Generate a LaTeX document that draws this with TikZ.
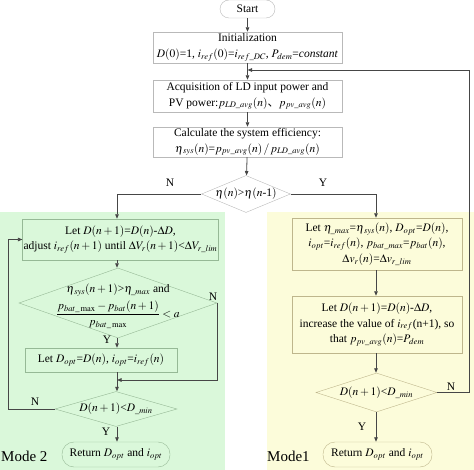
\documentclass[tikz,border=0pt]{standalone}
\usepackage{mathptmx}
\usepackage[no-math]{fontspec}
\setmainfont{Liberation Serif}
\newfontfamily\cjk{Noto Sans CJK SC}
\usepackage{amsmath}
\usetikzlibrary{arrows.meta,positioning,shapes.geometric,calc}
\definecolor{modegreen}{RGB}{218,248,218}
\definecolor{modeyellow}{RGB}{252,252,218}
\definecolor{edgegreen}{RGB}{150,185,150}
\definecolor{edgeyellow}{RGB}{190,182,140}
\definecolor{linegray}{RGB}{70,70,70}
\newcommand{\etasys}{\eta_{\kern1pt sys}}

\begin{document}
\begin{tikzpicture}[
  x=1pt, y=-1pt,
  every node/.style={font=\fontsize{11.5}{15.5}\selectfont},
  proc/.style={rectangle, draw=gray!55, align=center, inner sep=1pt},
  term/.style={rectangle, rounded corners=9pt, draw=gray!55, align=center, inner sep=1pt},
  cond/.style={diamond, draw=gray!55, align=center, inner sep=0pt},
  lbl/.style={inner sep=1pt},
  trans/.style={-{Triangle[length=4.5pt,width=3.5pt]}, draw=linegray, line width=0.8pt},
  link/.style={draw=linegray, line width=0.8pt},
]
  \useasboundingbox (0,0) rectangle (474,470);
  % mode regions
  \fill[modegreen] (0,212) rectangle (225,470);
  \fill[modeyellow] (267,212) rectangle (474,470);

  % main column
  \node[term, minimum width=55pt, minimum height=18pt] (start) at (247.5,9) {Start};
  \node[proc, minimum width=189pt, minimum height=31pt] (init) at (247.5,47.5)
    {Initialization\\ $D(0)$=1, $i_{ref}(0)$=$i_{ref\_DC}$, $P_{dem}$=\textit{constant}};
  \node[proc, minimum width=189pt, minimum height=32pt] (acq) at (247.5,96)
    {Acquisition of LD input power and\\ PV power:$p_{LD\_avg}(n)${\cjk 、}$p_{pv\_avg}(n)$};
  \node[proc, minimum width=189pt, minimum height=30pt] (calc) at (247.5,142)
    {Calculate the system efficiency:\\ $\etasys(n)$=$p_{pv\_avg}(n)\,/\,p_{LD\_avg}(n)$};
  \node[cond, shape aspect=2.4, minimum width=85pt, minimum height=36pt] (dec1) at (246,194)
    {$\eta(n)$>$\eta(n$-1$)$};

  % mode 2
  \coordinate (colL) at (117,0);
  \coordinate (loopL) at (8,0);
  \node[proc, draw=edgegreen, minimum width=195pt, minimum height=41pt] (letL) at (120.5,239.5)
    {Let $D(n+1)$=$D(n)$-$\Delta D$,\\ adjust $i_{ref}(n+1)$ until $\Delta V_r(n+1)$<$\Delta V_{r\_lim}$};
  \node[cond, draw=edgegreen, minimum width=198pt, minimum height=70pt] (dec2) at (118,303) {};
  \node[align=center, inner sep=0pt] (dec2txt) at (118,306)
    {$\etasys(n+1)$>$\eta_{\_max}$ and\\[4pt]
     $\dfrac{p_{bat\_\max}-p_{bat}(n+1)}{p_{bat\_\max}}<a$};
  \node[proc, draw=edgegreen, minimum width=152pt, minimum height=24pt] (optL) at (101,360)
    {Let $D_{opt}$=$D(n)$, $i_{opt}$=$i_{ref}(n)$};
  \coordinate (jnL) at (117,380);
  \node[cond, draw=edgegreen, shape aspect=3.4, minimum width=122pt, minimum height=35pt] (dec3) at (116,409)
    {$D(n+1)$<$D_{\_min}$};
  \node[term, draw=edgegreen, rounded corners=12pt, minimum width=108pt, minimum height=25pt] (retL) at (116,454.5)
    {Return $D_{opt}$ and $i_{opt}$};
  \node[lbl, font=\fontsize{15}{18}\selectfont, anchor=west] (modeL) at (0,456) {Mode 2};

  % mode 1
  \coordinate (colR) at (376,0);
  \coordinate (loopR) at (469,0);
  \coordinate (jnT) at (247.5,70);
  \node[proc, draw=edgeyellow, minimum width=170pt, minimum height=52pt] (letR) at (377,244)
    {Let $\eta_{\_max}$=$\etasys(n)$, $D_{opt}$=$D(n)$,\\ $i_{opt}$=$i_{ref}(n)$, $p_{bat\_max}$=$p_{bat}(n)$,\\ $\Delta v_r(n)$=$\Delta v_{r\_lim}$};
  \node[proc, draw=edgeyellow, minimum width=170pt, minimum height=57pt] (incR) at (377,324.5)
    {Let $D(n+1)$=$D(n)$-$\Delta D$,\\ increase the value of $i_{ref}$(n+1), so\\ that $p_{pv\_avg}(n)$=$P_{dem}$};
  \node[cond, draw=edgeyellow, shape aspect=3.4, minimum width=121pt, minimum height=39pt] (dec4) at (376.5,392.5)
    {$D(n+1)$<$D_{\_min}$};
  \node[term, draw=edgeyellow, rounded corners=12pt, minimum width=109pt, minimum height=25pt] (retR) at (377.5,454.5)
    {Return $D_{opt}$ and $i_{opt}$};
  \node[lbl, font=\fontsize{15}{18}\selectfont, anchor=west] (modeR) at (266,456) {Mode1};

  % connectors
  \draw[trans] (start) -- (init);
  \draw[trans] (init) -- (acq);
  \draw[trans] (acq) -- (calc);
  \draw[trans] (calc) -- (dec1);
  \draw[trans] (dec1.west) -| (colL |- letL.north);
  \draw[trans] (dec1.east) -| (colR |- letR.north);
  \node[lbl] (n1) at (170,183) {N};
  \node[lbl] (y1) at (323,183) {Y};

  \draw[trans] (colL |- letL.south) -- (colL |- dec2.north);
  \draw[trans] (colL |- dec2.south) -- (colL |- optL.north);
  \draw[trans] (colL |- optL.south) -- (colL |- dec3.north);
  \draw[trans] (dec2.east) |- (jnL);
  \draw[trans] (dec3.south -| colL) -- (colL |- retL.north);
  \draw[trans] (dec3.west) -- (dec3.west -| loopL) |- (letL.west);
  \node[lbl] (n2) at (213,297) {N};
  \node[lbl] (y2) at (107,340) {Y};
  \node[lbl] (n3) at (35,402) {N};
  \node[lbl] (y3) at (106,432) {Y};

  \draw[trans] (colR |- letR.south) -- (colR |- incR.north);
  \draw[trans] (colR |- incR.south) -- (colR |- dec4.north);
  \draw[trans] (colR |- dec4.south) -- (colR |- retR.north);
  \draw[trans] (dec4.east) -- (dec4.east -| loopR) |- (jnT);
  \node[lbl] (n4) at (451,387) {N};
  \node[lbl] (y4) at (362,427) {Y};
\end{tikzpicture}
\end{document}
